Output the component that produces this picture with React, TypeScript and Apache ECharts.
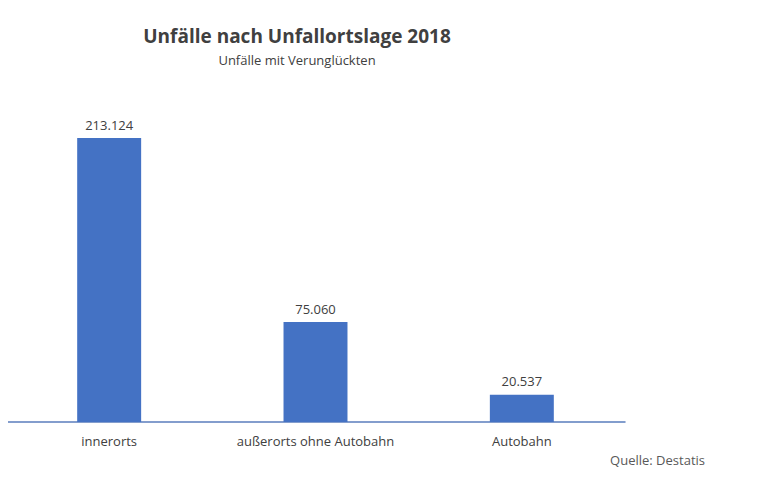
import React, { useEffect, useRef } from "react";
import * as echarts from "echarts";

const categories = ["innerorts", "außerorts ohne Autobahn", "Autobahn"];
const accidents = [213124, 75060, 20537];
const titleText = "Unfälle nach Unfallortslage 2018";
const subtitleText = "Unfälle mit Verunglückten";
const sourceText = "Quelle: Destatis";

const FONT = "'Open Sans', 'Noto Sans', sans-serif";

const fmt = (v: number) =>
  String(v).replace(/\B(?=(\d{3})+(?!\d))/g, ".");

export default function App() {
  const ref = useRef<HTMLDivElement>(null);
  useEffect(() => {
    if (!ref.current) return;
    const chart = echarts.init(ref.current, undefined, { renderer: "svg" });
    chart.setOption({
      animation: false,
      backgroundColor: "#ffffff",
      title: [
        {
          text: titleText,
          left: 292,
          top: 21,
          textAlign: "center",
          textStyle: { fontFamily: FONT, fontSize: 19, fontWeight: "bold", color: "#404040" },
        },
        {
          text: subtitleText,
          left: 292,
          top: 48,
          textAlign: "center",
          textStyle: { fontFamily: FONT, fontSize: 13, fontWeight: "normal", color: "#404040" },
        },
      ],
      graphic: [
        {
          type: "text",
          right: 63,
          top: 453,
          style: { text: sourceText, font: `13px ${FONT}`, fill: "#595959" },
        },
      ],
      grid: { left: 6, right: 143, top: 89, bottom: 71, containLabel: false },
      xAxis: {
        type: "category",
        data: categories,
        axisLine: { show: true, lineStyle: { color: "#5a7dbd", width: 1.5 } },
        axisTick: { show: false },
        axisLabel: { fontFamily: FONT, fontSize: 13, color: "#404040", margin: 12 },
      },
      yAxis: {
        type: "value",
        min: 0,
        max: 250000,
        show: false,
        splitLine: { show: false },
      },
      series: [
        {
          type: "bar",
          data: accidents,
          barWidth: "31%",
          itemStyle: { color: "#4472c4" },
          label: {
            show: true,
            position: "top",
            distance: 7,
            formatter: (p: any) => fmt(p.value),
            fontFamily: FONT,
            fontSize: 13,
            color: "#404040",
          },
        },
      ],
    });
    return () => chart.dispose();
  }, []);
  return <div ref={ref} style={{ width: 768, height: 493, margin: -8 }} />;
}
